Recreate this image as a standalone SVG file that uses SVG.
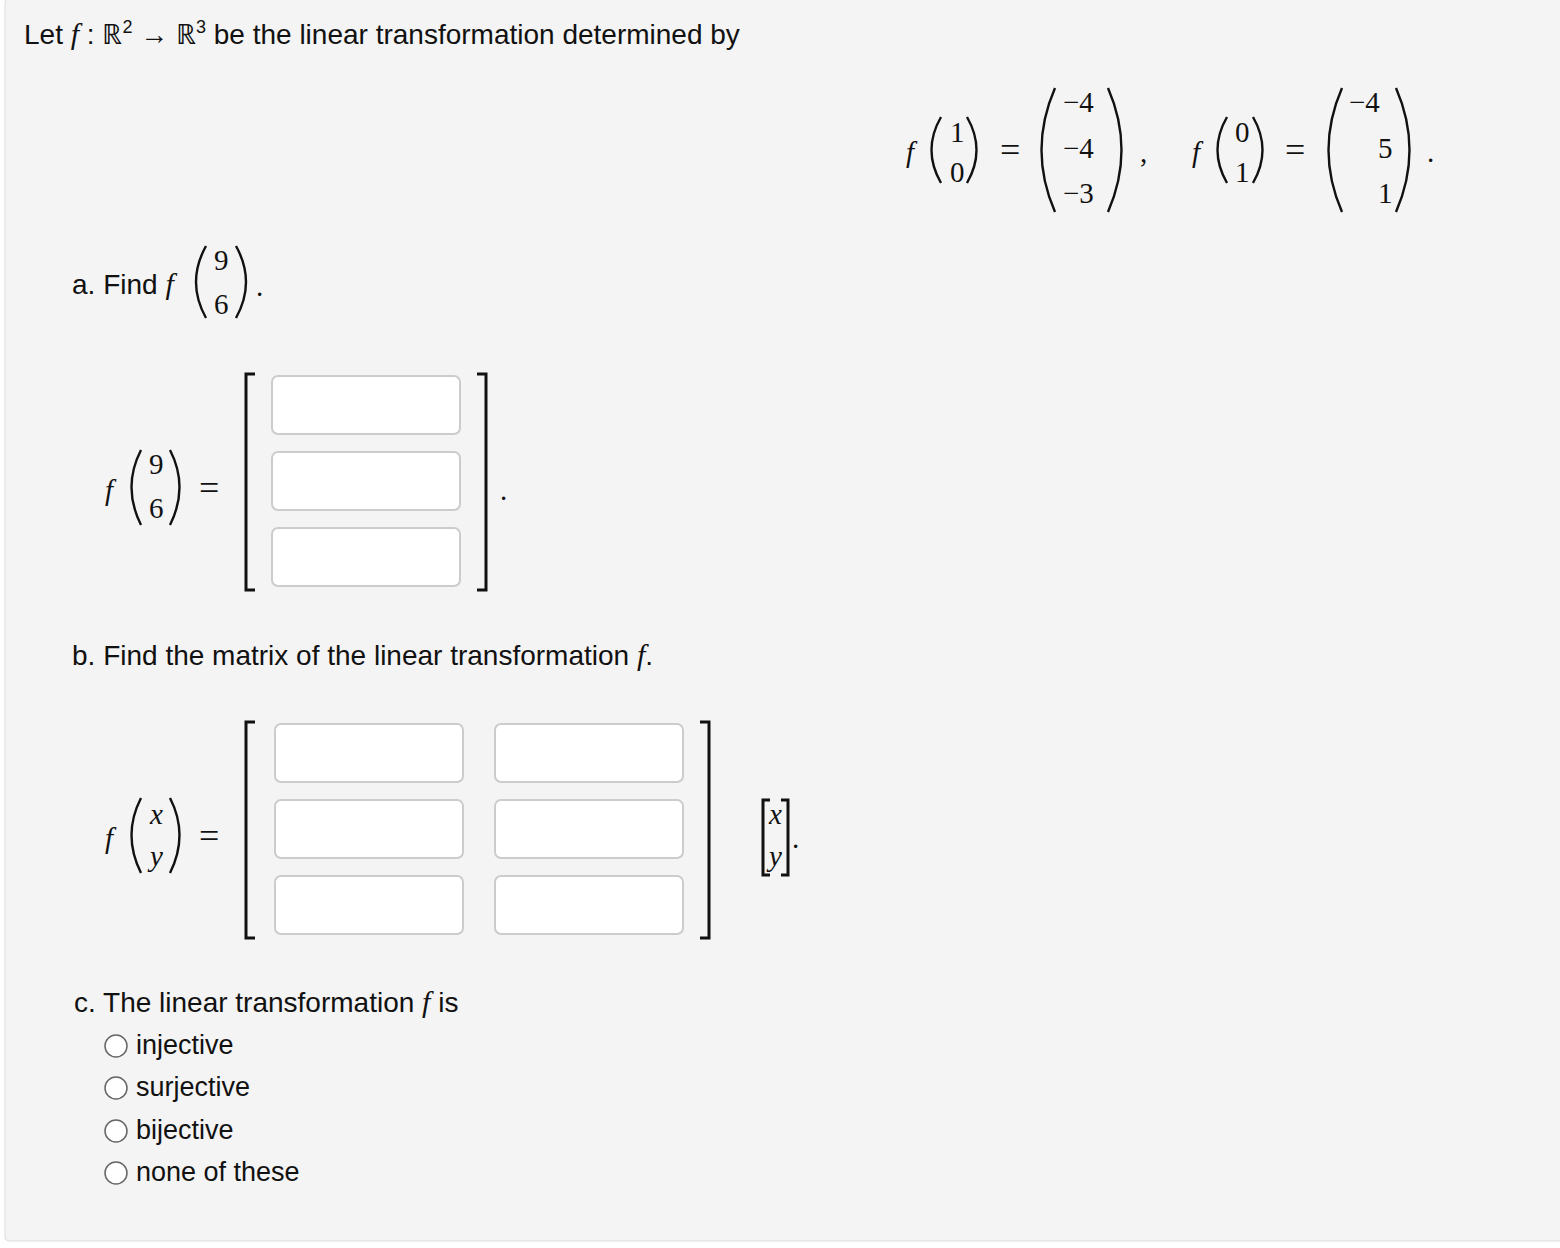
<svg xmlns="http://www.w3.org/2000/svg" width="1560" height="1248" viewBox="0 0 1560 1248">
<style>
.t{font-family:"Liberation Sans",Arial,sans-serif;font-size:28px;fill:#111}
.o{font-size:27px}
.m text,.m{font-family:"Liberation Serif","Times New Roman",serif;font-size:29px;fill:#111}
.m text.eq{font-size:36px}
.i{font-style:italic}
.box{fill:#fff;stroke:#ccc;stroke-width:2}
.p{fill:none;stroke:#111;stroke-width:2.4}
.br{fill:none;stroke:#111;stroke-width:3}
.rad{fill:#fff;stroke:#666;stroke-width:1.5}
</style>
<rect x="0" y="0" width="1560" height="1248" fill="#fff"/>
<rect x="5" y="-2" width="1560" height="1243" rx="4" fill="#f4f4f4" stroke="#ddd"/>
<text class="t" x="24" y="44">Let <tspan font-family="Liberation Serif" font-style="italic" font-size="30">f</tspan> : ℝ<tspan font-size="18" dy="-11">2</tspan><tspan dy="11"> → ℝ</tspan><tspan font-size="18" dy="-11">3</tspan><tspan dy="11"> be the linear transformation determined by</tspan></text>
<g class="m">
<text class="i" x="906" y="162">f</text>
<path class="p" d="M941 117 Q922 150 941 183"/><text x="950" y="142">1</text><text x="950" y="182">0</text><path class="p" d="M967 117 Q986 150 967 183"/>
<text class="eq" x="1000" y="162">=</text>
<path class="p" d="M1055 88 Q1028 150 1055 212"/><text x="1063" y="112">−4</text><text x="1063" y="158">−4</text><text x="1063" y="203">−3</text><path class="p" d="M1108 88 Q1135 150 1108 212"/>
<text x="1140" y="162">,</text>
<text class="i" x="1192" y="162">f</text>
<path class="p" d="M1227 117 Q1208 150 1227 183"/><text x="1235" y="142">0</text><text x="1235" y="182">1</text><path class="p" d="M1253 117 Q1272 150 1253 183"/>
<text class="eq" x="1285" y="162">=</text>
<path class="p" d="M1342 88 Q1315 150 1342 212"/><text x="1349" y="112">−4</text><text x="1378" y="158">5</text><text x="1378" y="203">1</text><path class="p" d="M1396 88 Q1423 150 1396 212"/>
<text x="1427" y="162">.</text>
</g>
<text class="t" x="72" y="294">a. Find <tspan font-family="Liberation Serif" font-style="italic" font-size="30">f</tspan></text>
<g class="m">
<path class="p" d="M206 246 Q186 282 206 318"/><text x="214" y="270">9</text><text x="214" y="314">6</text><path class="p" d="M236 246 Q256 282 236 318"/><text x="256" y="296">.</text>
<text class="i" x="105" y="500">f</text>
<path class="p" d="M141 450 Q122 487 141 525"/><text x="149" y="474">9</text><text x="149" y="518">6</text><path class="p" d="M170 450 Q189 487 170 525"/>
<text class="eq" x="199" y="500">=</text>
<text x="500" y="500">.</text>
</g>
<path class="br" d="M255 374 H246 V590 H255"/><path class="br" d="M477 374 H486 V590 H477"/>
<rect class="box" x="272" y="376" width="188" height="58" rx="6"/>
<rect class="box" x="272" y="452" width="188" height="58" rx="6"/>
<rect class="box" x="272" y="528" width="188" height="58" rx="6"/>
<text class="t" x="72" y="665">b. Find the matrix of the linear transformation <tspan font-family="Liberation Serif" font-style="italic" font-size="30">f</tspan>.</text>
<g class="m">
<text class="i" x="105" y="848">f</text>
<path class="p" d="M141 798 Q122 835 141 873"/><text class="i" x="150" y="824">x</text><text class="i" x="150" y="866">y</text><path class="p" d="M170 798 Q189 835 170 873"/>
<text class="eq" x="199" y="848">=</text>
<text class="i" x="769" y="824" font-size="24">x</text><text class="i" x="769" y="866" font-size="24">y</text>
<text x="792" y="848">.</text>
</g>
<path class="br" d="M770 800 H763 V875 H770" stroke-width="1.5"/><path class="br" d="M781 800 H788 V875 H781" stroke-width="1.5"/>
<path class="br" d="M255 722 H246 V938 H255"/><path class="br" d="M700 722 H709 V938 H700"/>
<rect class="box" x="275" y="724" width="188" height="58" rx="6"/><rect class="box" x="495" y="724" width="188" height="58" rx="6"/>
<rect class="box" x="275" y="800" width="188" height="58" rx="6"/><rect class="box" x="495" y="800" width="188" height="58" rx="6"/>
<rect class="box" x="275" y="876" width="188" height="58" rx="6"/><rect class="box" x="495" y="876" width="188" height="58" rx="6"/>
<text class="t" x="74" y="1012">c. The linear transformation <tspan font-family="Liberation Serif" font-style="italic" font-size="30">f</tspan> is</text>
<circle class="rad" cx="116" cy="1046" r="11"/><text class="t o" x="136" y="1054">injective</text>
<circle class="rad" cx="116" cy="1088" r="11"/><text class="t o" x="136" y="1096">surjective</text>
<circle class="rad" cx="116" cy="1131" r="11"/><text class="t o" x="136" y="1139">bijective</text>
<circle class="rad" cx="116" cy="1173" r="11"/><text class="t o" x="136" y="1181">none of these</text>
</svg>
